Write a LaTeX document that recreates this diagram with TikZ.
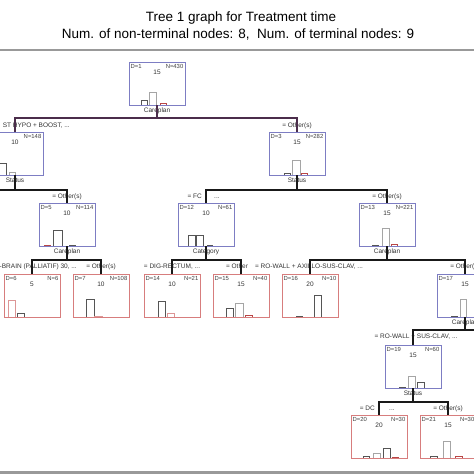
\documentclass[tikz,border=0pt]{standalone}
\usepackage{fontspec}
\setmainfont{Liberation Sans}
\definecolor{ntc}{RGB}{125,125,195}
\definecolor{tc}{RGB}{215,125,125}
\definecolor{bdark}{RGB}{85,85,85}
\definecolor{blight}{RGB}{165,165,165}
\definecolor{bred}{RGB}{185,70,70}
\definecolor{bpink}{RGB}{220,150,150}
\definecolor{rootline}{RGB}{75,45,75}
\tikzset{
  ntbox/.style={draw=ntc, line width=1pt, minimum width=56pt, minimum height=43pt, inner sep=0pt, outer sep=0pt},
  tbox/.style={ntbox, draw=tc},
  idtxt/.style={font=\fontsize{5.9}{6.5}\selectfont, inner sep=0pt, text=black!75},
  valtxt/.style={font=\fontsize{6.5}{7}\selectfont, inner sep=0pt, anchor=base, text=black!80},
  lbl/.style={font=\fontsize{6.5}{7}\selectfont, inner sep=0pt, anchor=base, text=black!80},
  conn/.style={line width=2.6pt, draw=black!90},
  rconn/.style={line width=2.6pt, draw=rootline},
  binline/.style={line width=0.9pt}
}
\newcommand\treenode[7]{%
  \node[#1] (#2) at (#3,#4) {};
  \node[idtxt, anchor=base west] (#2d) at ([xshift=1.5pt,yshift=-6pt]#2.north west) {D=#5};
  \node[idtxt, anchor=base east] (#2n) at ([xshift=-1.5pt,yshift=-6pt]#2.north east) {N=#6};
  \node[valtxt] (#2v) at ([yshift=-12pt]#2.north) {#7};
}
\newcommand\hbin[5]{\draw[binline,#5] ([xshift=#2pt]#1.south west) -- ++(0,-#4) -- ++(#3,0) -- ++(0,#4);}
\begin{document}
\begin{tikzpicture}[x=1pt,y=-1pt]
\fill[white] (0,0) rectangle (474,474);
\useasboundingbox (0,0) rectangle (474,474);
% title
\node[font=\fontsize{13.5}{16}\selectfont, anchor=base, inner sep=0pt] (t1) at (241,21) {Tree 1 graph for Treatment time};
\node[font=\fontsize{13.5}{16}\selectfont, anchor=base, inner sep=0pt] (t2) at (238,38) {Num. of non-terminal nodes: 8,\ \ Num. of terminal nodes: 9};
\draw[black!40, line width=1.8pt] (0,50) -- (474,50);
\fill[black!40] (0,471) rectangle (474,474);
% levels
\coordinate (h1) at (0,118);
\coordinate (h2) at (0,190);
\coordinate (h3) at (0,260);
\coordinate (h4) at (0,330);
\coordinate (h5) at (0,402);
\coordinate (n4top) at (-40,203);
\coordinate (n18top) at (530,345);
% boxes
\treenode{ntbox}{n1}{157}{83.5}{1}{430}{15}
\treenode{ntbox}{n2}{15}{153.5}{2}{148}{10}
\treenode{ntbox}{n3}{297}{153.5}{3}{282}{15}
\treenode{ntbox}{n5}{67}{224.5}{5}{114}{10}
\treenode{ntbox}{n12}{206}{224.5}{12}{61}{10}
\treenode{ntbox}{n13}{387}{224.5}{13}{221}{15}
\treenode{tbox}{n6}{32}{295.5}{6}{6}{5}
\treenode{tbox}{n7}{101}{295.5}{7}{108}{10}
\treenode{tbox}{n14}{172}{295.5}{14}{21}{10}
\treenode{tbox}{n15}{241}{295.5}{15}{40}{15}
\treenode{tbox}{n16}{310}{295.5}{16}{10}{20}
\treenode{ntbox}{n17}{465}{295.5}{17}{211}{15}
\treenode{ntbox}{n19}{413}{366.5}{19}{60}{15}
\treenode{tbox}{n20}{379}{436.5}{20}{30}{20}
\treenode{tbox}{n21}{448}{436.5}{21}{30}{15}
% histograms
\hbin{n1}{12}{6}{5}{bdark}\hbin{n1}{20}{7}{13}{blight}\hbin{n1}{31}{6}{2}{bred}
\hbin{n2}{12}{7}{12}{bdark}\hbin{n2}{22}{6}{3}{blight}
\hbin{n3}{15}{6}{2}{bdark}\hbin{n3}{23}{8}{15}{blight}\hbin{n3}{32}{6}{2}{bred}
\hbin{n5}{5}{6}{1}{bred}\hbin{n5}{14}{9}{16}{bdark}\hbin{n5}{30}{6}{1}{bdark}
\hbin{n12}{10}{7}{11}{bdark}\hbin{n12}{18}{7}{11}{bdark}\hbin{n12}{29}{5}{1}{bdark}
\hbin{n13}{13}{6}{1}{bdark}\hbin{n13}{23}{7}{18}{blight}\hbin{n13}{32}{6}{2}{bred}
\hbin{n6}{4}{7}{17}{bpink}\hbin{n6}{13}{7}{4}{bdark}
\hbin{n7}{13}{8}{18}{bdark}\hbin{n7}{21}{8}{1}{bpink}
\hbin{n14}{14}{7}{16}{bdark}\hbin{n14}{23}{7}{4}{bpink}
\hbin{n15}{13}{7}{9}{bdark}\hbin{n15}{22}{8}{14}{blight}\hbin{n15}{32}{7}{2}{bred}
\hbin{n16}{14}{6}{1}{bdark}\hbin{n16}{32}{7}{22}{bdark}
\hbin{n17}{14}{6}{1}{bdark}\hbin{n17}{23}{6}{18}{blight}
\hbin{n19}{14}{6}{1}{bdark}\hbin{n19}{23}{7}{12}{blight}\hbin{n19}{32}{7}{6}{bdark}
\hbin{n20}{12}{6}{2}{bdark}\hbin{n20}{22}{7}{5}{blight}\hbin{n20}{32}{7}{10}{bdark}\hbin{n20}{41}{6}{1}{bred}
\hbin{n21}{10}{7}{2}{bdark}\hbin{n21}{23}{7}{17}{blight}\hbin{n21}{35}{7}{2}{bred}
% split variable labels
\node[lbl] (s1) at (157,112) {Careplan};
\node[lbl] (s2) at (15,182) {Status};
\node[lbl] (s3) at (297,182) {Status};
\node[lbl] (s5) at (67,253) {Careplan};
\node[lbl] (s12) at (206,253) {Category};
\node[lbl] (s13) at (387,253) {Careplan};
\node[lbl] (s17) at (465,324) {Careplan};
\node[lbl] (s19) at (413,395) {Status};
% edge labels
\node[lbl, anchor=base east] (e2) at (70,127) {ST HYPO + BOOST, ...};
\node[lbl] (e3) at (297,127) {= Other(s)};
\node[lbl] (e5) at (67,198) {= Other(s)};
\node[lbl, anchor=base east] (e12a) at (202,198) {= FC};
\node[lbl, anchor=base west] (e12b) at (214,198) {...};
\node[lbl] (e13) at (387,198) {= Other(s)};
\node[lbl, anchor=base east] (e6) at (77,268.5) {-BRAIN (PALLIATIF) 30, ...};
\node[lbl] (e7) at (101,268.5) {= Other(s)};
\node[lbl] (e14) at (172,268.5) {= DIG-RECTUM, ...};
\node[lbl] (e15) at (237,268.5) {= Other};
\node[lbl, fill=white, inner xsep=1pt] (e16) at (309,268.5) {= RO-WALL + AXILLO-SUS-CLAV, ...};
\node[lbl] (e17) at (465,268.5) {= Other(s)};
\node[lbl] (e19) at (416,338.5) {= RO-WALL + SUS-CLAV, ...};
\node[lbl, anchor=base east] (e20a) at (375,410.5) {= DC};
\node[lbl, anchor=base west] (e20b) at (389,410.5) {...};
\node[lbl] (e21) at (448,410.5) {= Other(s)};
% connectors
\draw[rconn] (n1.south) -- (n1.south |- h1) -| (n2.north);
\draw[rconn] (n1.south |- h1) -| (n3.north);
\draw[conn] (n2.south) -- (n2.south |- h2) -| (n4top);
\draw[conn] (n2.south |- h2) -| (n5.north);
\draw[conn] (n3.south) -- (n3.south |- h2) -| (n12.north);
\draw[conn] (n3.south |- h2) -| (n13.north);
\draw[conn] (n5.south) -- (n5.south |- h3) -| (n6.north);
\draw[conn] (n5.south |- h3) -| (n7.north);
\draw[conn] (n12.south) -- (n12.south |- h3) -| (n14.north);
\draw[conn] (n12.south |- h3) -| (n15.north);
\draw[conn] (n13.south) -- (n13.south |- h3) -| (n16.north);
\draw[conn] (n13.south |- h3) -| (n17.north);
\draw[conn] (n17.south) -- (n17.south |- h4) -| (n19.north);
\draw[conn] (n17.south |- h4) -| (n18top);
\draw[conn] (n19.south) -- (n19.south |- h5) -| (n20.north);
\draw[conn] (n19.south |- h5) -| (n21.north);
\end{tikzpicture}
\end{document}
